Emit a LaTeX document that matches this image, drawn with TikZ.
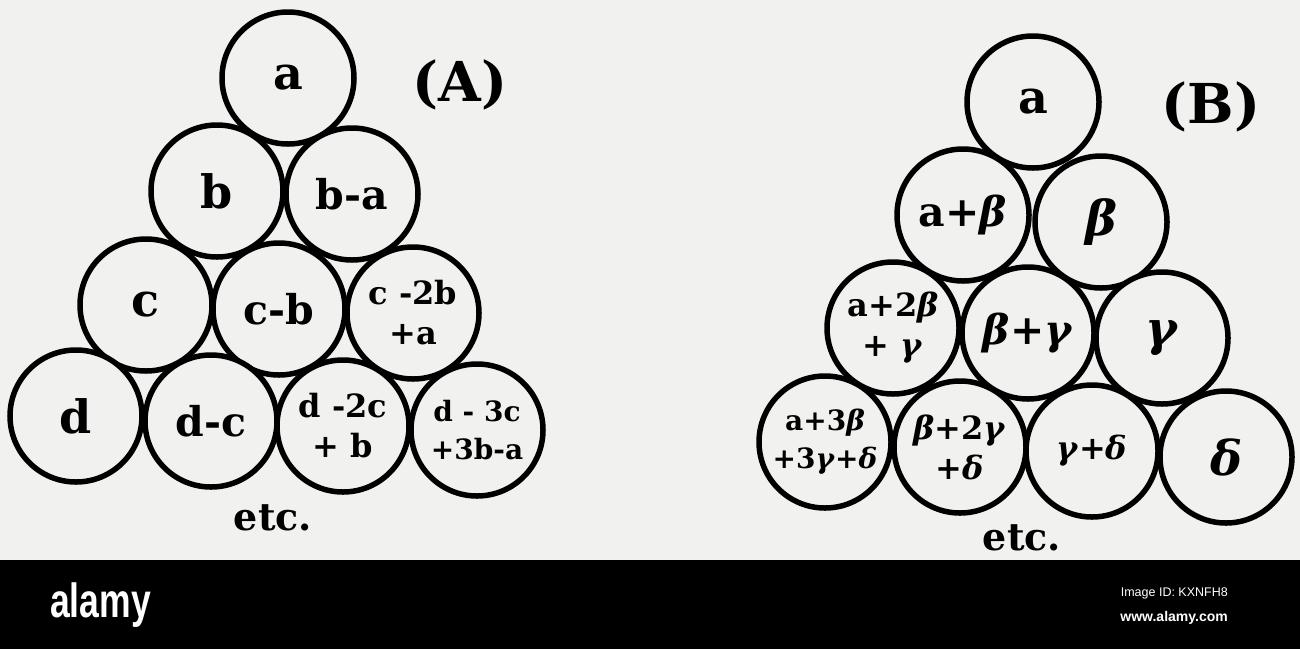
\documentclass[tikz,border=0pt]{standalone}
\usepackage{fontspec}
\setmainfont{DejaVu Serif}
\newfontfamily\wmfont{Liberation Sans}
\definecolor{bg}{HTML}{F1F1EF}
\newcommand{\grk}[1]{\textit{#1}}
\begin{document}
\begin{tikzpicture}[x=1pt,y=-1pt,
  ball/.style={circle,draw=black,line width=5.5pt,minimum size=132pt,inner sep=0pt,fill=bg,align=center},
  one/.style={font=\fontsize{46}{46}\selectfont\bfseries},
  grone/.style={font=\fontsize{48}{48}\selectfont\bfseries},
  mid/.style={font=\fontsize{41}{41}\selectfont\bfseries},
  two/.style={font=\fontsize{32}{40}\selectfont\bfseries},
  twosm/.style={font=\fontsize{28}{38}\selectfont\bfseries},
  panel/.style={font=\fontsize{55}{55}\selectfont\bfseries},
  etcs/.style={font=\fontsize{38}{38}\selectfont\bfseries}]
\fill[bg] (0,0) rectangle (1300,560);
\fill[black] (0,560) rectangle (1300,649);
\useasboundingbox (0,0) rectangle (1300,649);
% Panel A
\node[ball,one] (a1) at (288,78) {a};
\node[ball,one] (b1) at (217,191) {b};
\node[ball,mid] (b2) at (352,194) {b-a};
\node[ball,one] (c1) at (146,305) {c};
\node[ball,mid] (c2) at (279,309) {c-b};
\node[ball,two] (c3) at (413,313) {c -2b\\+a};
\node[ball,one] (d1) at (76,416) {d};
\node[ball,mid] (d2) at (211,421) {d-c};
\node[ball,two] (d3) at (343,426) {d -2c\\+ b};
\node[ball,twosm] (d4) at (477,430) {d - 3c\\+3b-a};
\node[etcs] (etcA) at (273,518) {etc.};
\node[panel] (labA) at (460,85) {(A)};
% Panel B
\node[ball,one] (pa) at (1033,102) {a};
\node[ball,mid] (pb1) at (963,215) {a+\grk{β}};
\node[ball,grone] (pb2) at (1101,222) {\grk{β}};
\node[ball,two] (pc1) at (893,328) {a+2\grk{β}\\+ \grk{γ}};
\node[ball,mid] (pc2) at (1028,333) {\grk{β}+\grk{γ}};
\node[ball,grone] (pc3) at (1162,338) {\grk{γ}};
\node[ball,twosm] (pd1) at (825,442) {a+3\grk{β}\\+3\grk{γ}+\grk{δ}};
\node[ball,two] (pd2) at (960,447) {\grk{β}+2\grk{γ}\\+\grk{δ}};
\node[ball,two] (pd3) at (1092,451) {\grk{γ}+\grk{δ}};
\node[ball,grone] (pd4) at (1226,457) {\grk{δ}};
\node[etcs] (etcB) at (1022,538) {etc.};
\node[panel] (labB) at (1211,107) {(B)};
% bottom bar
\node[font=\wmfont\bfseries\fontsize{48}{48}\selectfont,text=white,xscale=0.74,anchor=base west,inner sep=0pt] (logo) at (50,617) {alamy};
\node[font=\wmfont\fontsize{12.5}{12.5}\selectfont,text=white,anchor=base east,inner sep=0pt] (imgid) at (1228,596) {Image ID: KXNFH8};
\node[font=\wmfont\bfseries\fontsize{14}{14}\selectfont,text=white,anchor=base east,inner sep=0pt] (www) at (1228,621) {www.alamy.com};
\end{tikzpicture}
\end{document}
